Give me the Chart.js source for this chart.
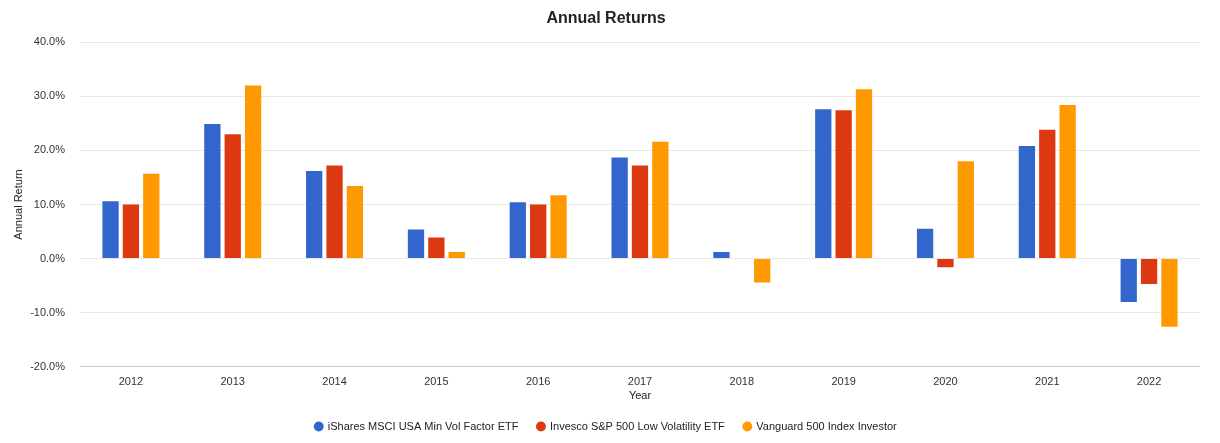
<!DOCTYPE html>
<html>
<head>
<meta charset="utf-8">
<script src="https://cdn.jsdelivr.net/npm/chart.js@4.4.0/dist/chart.umd.min.js"></script>
<style>
html,body{margin:0;padding:0;background:#fff;}
#wrap{width:1220px;height:443px;position:relative;}
</style>
</head>
<body>
<div id="wrap"><canvas id="c" width="1220" height="443"></canvas></div>
<script>
const years = ['2012','2013','2014','2015','2016','2017','2018','2019','2020','2021','2022'];
const seriesNames = ['iShares MSCI USA Min Vol Factor ETF','Invesco S&P 500 Low Volatility ETF','Vanguard 500 Index Investor'];
const usmv = [10.6, 24.9, 16.2, 5.4, 10.4, 18.7, 1.2, 27.6, 5.5, 20.8, -8.0];
const splv = [10.0, 23.0, 17.2, 3.9, 10.0, 17.2, 0.0, 27.4, -1.6, 23.8, -4.7];
const vfinx = [15.7, 32.0, 13.4, 1.2, 11.7, 21.6, -4.4, 31.3, 18.0, 28.4, -12.6];
const yTicks = [-20, -10, 0, 10, 20, 30, 40];
const colors = ['#3366cc', '#dc3912', '#ff9900'];

const FONT = "'Liberation Sans', Arial, sans-serif";
Chart.defaults.font.family = FONT;
Chart.defaults.animation = false;

new Chart(document.getElementById('c'), {
  type: 'bar',
  data: {
    labels: years,
    datasets: [usmv, splv, vfinx].map((d, i) => ({
      label: seriesNames[i],
      data: d,
      backgroundColor: colors[i],
      borderWidth: 0,
      categoryPercentage: 0.6,
      barPercentage: 0.8
    }))
  },
  options: {
    responsive: false,
    devicePixelRatio: 1,
    layout: { padding: { left: 12, right: 20, top: 0, bottom: 1 } },
    plugins: {
      title: {
        display: true,
        text: 'Annual Returns',
        color: '#222',
        font: { size: 16, weight: 'bold', family: FONT },
        padding: { top: 9, bottom: 14 }
      },
      legend: {
        position: 'bottom',
        labels: {
          usePointStyle: true,
          pointStyle: 'circle',
          boxWidth: 7,
          boxHeight: 7,
          padding: 19,
          color: '#222',
          font: { size: 11, family: FONT }
        }
      },
      tooltip: { enabled: false }
    },
    scales: {
      x: {
        grid: { display: false },
        border: { display: false },
        ticks: { color: '#333', font: { size: 11, family: FONT, lineHeight: 1.1 }, padding: 1 },
        title: { display: true, text: 'Year', color: '#222', font: { size: 11, family: FONT, lineHeight: 1.1 }, padding: { top: 1, bottom: 0 } }
      },
      y: {
        min: -20,
        max: 40,
        afterBuildTicks: (axis) => { axis.ticks = yTicks.map(v => ({ value: v })); },
        afterFit: (axis) => { axis.width = 68; },
        grid: {
          color: (ctx) => (ctx.tick && ctx.tick.value === -20) ? '#cccccc' : '#e8e8e8',
          lineWidth: 1,
          drawTicks: false
        },
        border: { display: false },
        ticks: {
          color: '#333',
          font: { size: 11, family: FONT },
          padding: 15,
          callback: (v) => v.toFixed(1) + '%'
        },
        title: { display: true, text: 'Annual Return', color: '#222', font: { size: 11, family: FONT }, padding: { top: 0, bottom: 0 } }
      }
    }
  }
});
</script>
</body>
</html>
